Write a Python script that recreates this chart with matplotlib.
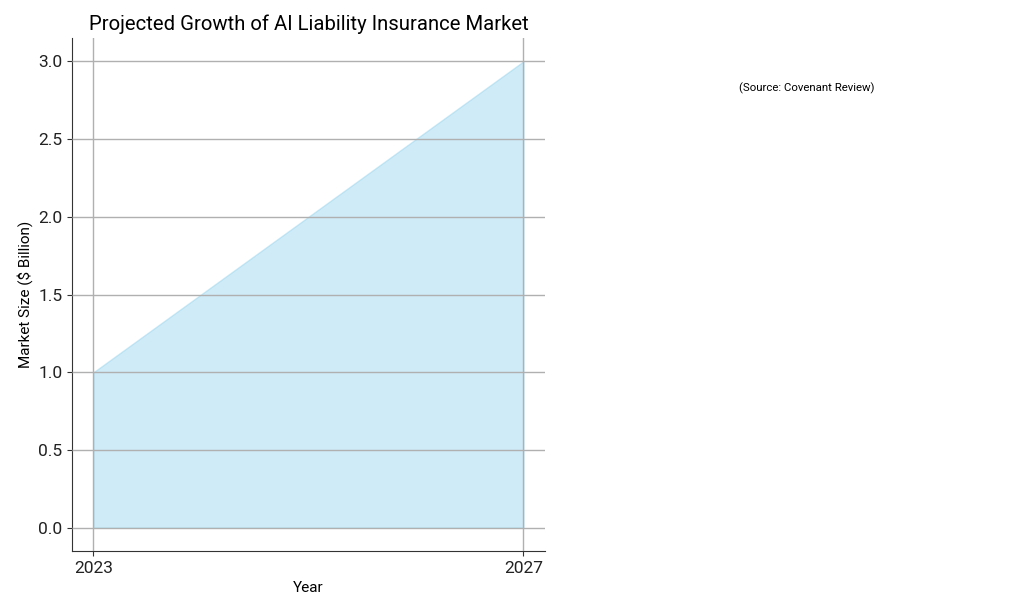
import matplotlib.pyplot as plt

# Data
years = [2023, 2027]
market_size = [1.0, 3.0]

plt.rcParams['font.family'] = ['Roboto', 'DejaVu Sans']

fig = plt.figure(figsize=(10.24, 6.14), dpi=100)
ax = fig.add_axes([0.0703, 0.1026, 0.4619, 0.8355])

ax.fill_between(years, market_size, color='skyblue', alpha=0.4, linewidth=1)
ax.set_xticks(years)
ax.set_xticklabels([str(y) for y in years])

ax.grid(True, color='#b0b0b0', linewidth=1)
ax.set_axisbelow(False)
ax.spines['top'].set_visible(False)
ax.spines['right'].set_visible(False)
for side in ['left', 'bottom']:
    ax.spines[side].set_color('#333333')
ax.tick_params(labelsize=12.5, color='#333333', labelcolor='#222222')

ax.set_title('Projected Growth of AI Liability Insurance Market', fontsize=14.6)
ax.set_xlabel('Year', fontsize=11)
ax.set_ylabel('Market Size ($ Billion)', fontsize=11)

fig.text(0.788, 0.857, '(Source: Covenant Review)', fontsize=8.2, ha='center', va='center')

plt.savefig('out.png', dpi=100)
